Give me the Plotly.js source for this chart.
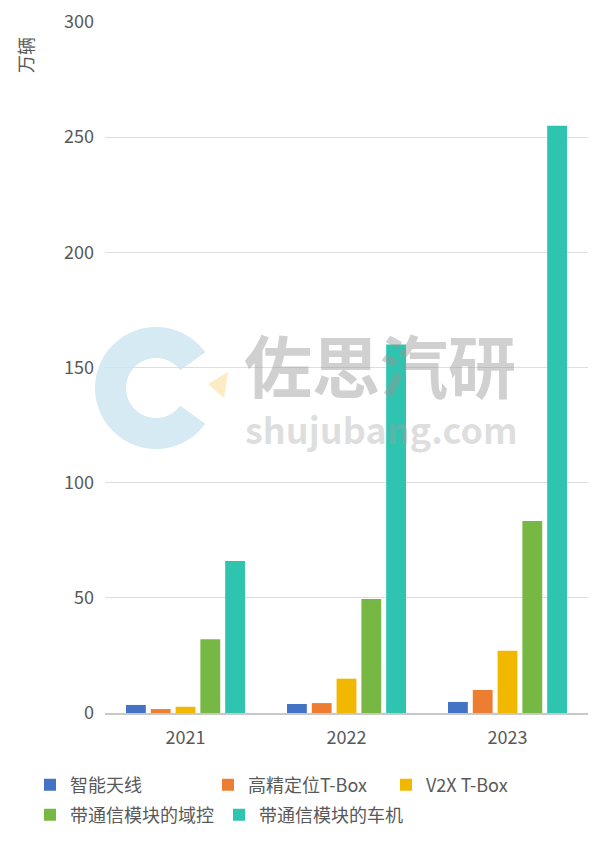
<!DOCTYPE html>
<html><head><meta charset="utf-8">
<script src="https://cdn.plot.ly/plotly-3.0.1.min.js"></script>
<style>html,body{margin:0;padding:0;background:#fff}#chart{width:612px;height:845px}</style>
</head><body><div id="chart"></div>
<script>
const years = ['2021', '2022', '2023'];
const seriesNames = ['智能天线', '高精定位T-Box', 'V2X T-Box', '带通信模块的域控', '带通信模块的车机'];
const antenna = [3.5, 3.9, 4.8];
const hpTbox = [1.7, 4.3, 10];
const v2xTbox = [2.7, 14.9, 27];
const domainCtrl = [32, 49.5, 83.4];
const headUnit = [66, 160, 255];
const yTicks = [0, 50, 100, 150, 200, 250, 300];
const colors = ['#4472c4', '#ed7d31', '#f2b800', '#76b843', '#2ec4b0'];
const values = [antenna, hpTbox, v2xTbox, domainCtrl, headUnit];
const legendRow = ['legend', 'legend', 'legend', 'legend2', 'legend2'];

const font = '"Microsoft YaHei", "Noto Sans CJK SC", sans-serif';
const traces = seriesNames.map((n, i) => ({
  type: 'bar', name: n, x: years, y: values[i], legend: legendRow[i],
  marker: {color: colors[i]}, hoverinfo: 'none'
}));

const L = 105, R = 24, T = 22, B = 132, W = 612, H = 845;
const pw = W - L - R, ph = H - T - B;
const px = x => (x - L) / pw, py = y => (H - B - y) / ph;

function ring(cx, cy, ro, ri, a0, a1) {
  const pts = [];
  const n = 60;
  for (let k = 0; k <= n; k++) {
    const a = (a0 + (a1 - a0) * k / n) * Math.PI / 180;
    pts.push([cx + ro * Math.cos(a), cy - ro * Math.sin(a)]);
  }
  for (let k = n; k >= 0; k--) {
    const a = (a0 + (a1 - a0) * k / n) * Math.PI / 180;
    pts.push([cx + ri * Math.cos(a), cy - ri * Math.sin(a)]);
  }
  return 'M' + pts.map(p => px(p[0]).toFixed(5) + ',' + py(p[1]).toFixed(5)).join(' L') + ' Z';
}
const tri = 'M' + [[208, 384], [228, 372], [224, 398]].map(p => px(p[0]).toFixed(5) + ',' + py(p[1]).toFixed(5)).join(' L') + ' Z';

const legendBase = {
  orientation: 'h', x: px(30), xanchor: 'left', yanchor: 'middle',
  font: {family: font, size: 18, color: '#595959'},
  itemwidth: 30, traceorder: 'normal', bgcolor: 'rgba(0,0,0,0)'
};

const layout = {
  width: W, height: H,
  margin: {l: L, r: R, t: T, b: B, autoexpand: false},
  paper_bgcolor: '#fff', plot_bgcolor: '#fff',
  font: {family: font, color: '#595959', size: 18},
  barmode: 'group', bargap: 0.23, bargroupgap: 0.2,
  showlegend: true,
  legend: Object.assign({}, legendBase, {y: py(785), entrywidth: 133, entrywidthmode: 'pixels'}),
  legend2: Object.assign({}, legendBase, {y: py(815)}),
  xaxis: {
    type: 'category', showgrid: false, ticks: '', showline: true,
    linecolor: '#c8c8c8', linewidth: 1.5, tickfont: {size: 18, color: '#595959'},
    ticklabelstandoff: 8
  },
  yaxis: {
    range: [0, 300], tickvals: yTicks, ticktext: yTicks.map(String),
    showgrid: true, gridcolor: '#dedede', gridwidth: 1, zeroline: false,
    ticks: '', showline: false, tickfont: {size: 18, color: '#595959'}, ticklabelstandoff: 10
  },
  shapes: [
    {type: 'path', xref: 'paper', yref: 'paper', path: ring(156, 388, 61, 30, 36, 324),
     fillcolor: '#cfe6f2', line: {width: 0}, opacity: 0.85, layer: 'below'},
    {type: 'path', xref: 'paper', yref: 'paper', path: tri,
     fillcolor: '#fbe6b4', line: {width: 0}, opacity: 0.8, layer: 'below'}
  ],
  annotations: [
    {text: '万辆', xref: 'paper', yref: 'paper', x: px(25), y: py(55), textangle: -90,
     xanchor: 'center', yanchor: 'middle',
     showarrow: false, font: {family: font, size: 18, color: '#595959'}},
    {text: '<b>佐思汽研</b>', xref: 'paper', yref: 'paper', x: px(380), y: py(363),
     showarrow: false, font: {family: font, size: 68, color: 'rgba(150,150,150,0.45)'}},
    {text: '<b>shujubang.com</b>', xref: 'paper', yref: 'paper', x: px(381), y: py(428),
     showarrow: false, font: {family: font, size: 36, color: 'rgba(160,160,160,0.35)'}}
  ]
};
Plotly.newPlot('chart', traces, layout, {displayModeBar: false, staticPlot: true});
</script></body></html>
